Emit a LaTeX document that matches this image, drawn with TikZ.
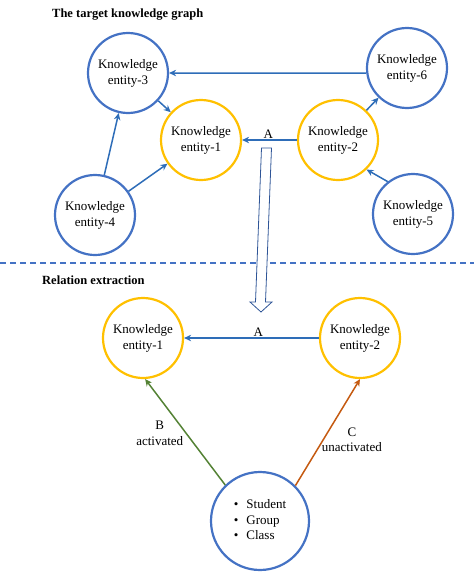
\documentclass[tikz,border=0pt]{standalone}
\usepackage{fontspec}
\setmainfont{Liberation Serif}
\usetikzlibrary{arrows.meta}
\definecolor{entblue}{HTML}{4472C4}
\definecolor{entyellow}{HTML}{FFC000}
\definecolor{edgeblue}{HTML}{2E6DB8}
\definecolor{edgegreen}{HTML}{548235}
\definecolor{edgeorange}{HTML}{C55A11}
\definecolor{hollowblue}{HTML}{2F5597}
\begin{document}
\begin{tikzpicture}[x=1pt,y=-1pt,
  ent/.style={circle,draw,line width=2.2pt,minimum size=80pt,inner sep=0pt,align=center,
    font=\fontsize{13}{16}\selectfont},
  bluent/.style={ent,draw=entblue},
  yelent/.style={ent,draw=entyellow},
  rel/.style={line width=1.5pt,draw=edgeblue,-{Stealth[length=7pt,width=6.5pt]}},
  lbl/.style={font=\fontsize{13}{15.5}\selectfont,inner sep=1pt,align=center},
  ttl/.style={font=\fontsize{12.5}{15}\selectfont\bfseries,anchor=west,inner sep=0pt}]
\useasboundingbox (0,0) rectangle (474,573);

% titles
\node[ttl] (t1) at (52,15) {The target knowledge graph};
\node[ttl] (t2) at (42,280) {Relation extraction};

% top graph
\node[bluent] (e3) at (128,73) {Knowledge\\entity-3};
\node[yelent] (e1) at (201,140) {Knowledge\\entity-1};
\node[yelent] (e2) at (338,140) {Knowledge\\entity-2};
\node[bluent] (e6) at (407,68) {Knowledge\\entity-6};
\node[bluent] (e4) at (95,215) {Knowledge\\entity-4};
\node[bluent] (e5) at (413,214) {Knowledge\\entity-5};

\draw[rel] (e6.187) -- (e3.east);
\draw[rel] (e3) -- (e1);
\draw[rel] (e4) -- (e3);
\draw[rel] (e4) -- (e1);
\draw[rel] (e2) -- node[lbl,above,pos=0.52] {A} (e1);
\draw[rel] (e2) -- (e6);
\draw[rel] (e5.128) -- (e2.314);

% separator
\draw[entblue,line width=1.5pt,dash pattern=on 6pt off 4pt] (0,263) -- (474,263);

% hollow arrow
\draw[hollowblue,line width=0.8pt,fill=white,line join=miter]
  (261.5,148) -- (271.5,148) -- (265.5,302) -- (272,302) -- (261,312)
  -- (250,302) -- (255.5,302) -- cycle;

% bottom graph
\node[yelent] (b1) at (143,338) {Knowledge\\entity-1};
\node[yelent] (b2) at (360,338) {Knowledge\\entity-2};
\node[ent,draw=entblue,minimum size=98pt,font=\fontsize{13}{15.5}\selectfont] (stu) at (260,521)
  {\begin{tabular}{@{}l@{\hspace{8pt}}l@{}}\textbullet & Student\\ \textbullet & Group\\ \textbullet & Class\end{tabular}};

\draw[rel] (b2) -- node[lbl,above,pos=0.45] {A} (b1);
\draw[line width=1.5pt,draw=edgegreen,-{Stealth[length=7pt,width=6.5pt]}]
  (stu.134) -- node[lbl,anchor=east,pos=0.49,xshift=-1pt] {B\\activated} (b1.273);
\draw[line width=1.5pt,draw=edgeorange,-{Stealth[length=7pt,width=6.5pt]}]
  (stu.45) -- node[lbl,anchor=west,pos=0.43,xshift=-3pt] {C\\unactivated} (b2.270);
\end{tikzpicture}
\end{document}
